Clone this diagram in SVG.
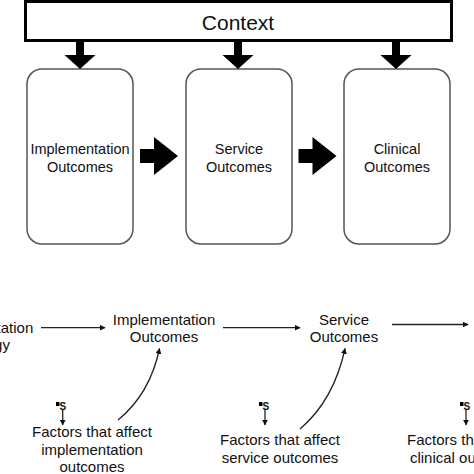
<svg xmlns="http://www.w3.org/2000/svg" width="474" height="474" viewBox="0 0 474 474">
<defs>
<style>
text{font-family:"Liberation Sans",Arial,sans-serif;fill:#111;text-anchor:middle}
.t1{font-size:14.5px}
.t2{font-size:15px}
.box{fill:#fff;stroke:#555;stroke-width:1.5}
.big{fill:#000}
.ln{fill:none;stroke:#222;stroke-width:1.3}
.s{font-size:10px;font-weight:bold;text-anchor:start}
</style>
<marker id="ah" viewBox="0 0 10 10" refX="9" refY="5" markerWidth="6" markerHeight="6" markerUnits="userSpaceOnUse" orient="auto">
<path d="M0,0 L10,5 L0,10 z" fill="#111"/>
</marker>
</defs>
<rect width="474" height="474" fill="#fff"/>
<g id="context">
<rect x="25.5" y="1.5" width="426" height="39" fill="#fff" stroke="#000" stroke-width="3"/>
<text x="238" y="30" style="font-size:21px">Context</text>
</g>
<g id="box-implementation">
<rect class="box" x="27" y="69" width="106" height="175" rx="15"/>
<text class="t1" x="80" y="154">Implementation</text>
<text class="t1" x="80" y="171.5">Outcomes</text>
</g>
<g id="box-service">
<rect class="box" x="186" y="69" width="106" height="175" rx="15"/>
<text class="t1" x="239" y="154">Service</text>
<text class="t1" x="239" y="171.5">Outcomes</text>
</g>
<g id="box-clinical">
<rect class="box" x="344" y="69" width="106" height="175" rx="15"/>
<text class="t1" x="397" y="154">Clinical</text>
<text class="t1" x="397" y="171.5">Outcomes</text>
</g>
<g id="n-strategy">
<text class="t2" x="-18" y="333">Implementation</text>
<text class="t2" x="-18" y="350">Strategy</text>
</g>
<g id="n-impl">
<text class="t2" x="164" y="324.5">Implementation</text>
<text class="t2" x="164" y="342">Outcomes</text>
</g>
<g id="n-service">
<text class="t2" x="344" y="324.5">Service</text>
<text class="t2" x="344" y="342">Outcomes</text>
</g>
<g id="f-impl">
<rect x="56" y="402" width="3.5" height="4" fill="#000"/>
<text class="s" x="59.5" y="409.5">S</text>
<text class="t2" x="92" y="437">Factors that affect</text>
<text class="t2" x="92" y="455">implementation</text>
<text class="t2" x="92" y="472">outcomes</text>
</g>
<g id="f-service">
<rect x="259" y="402" width="3.5" height="4" fill="#000"/>
<text class="s" x="262.5" y="409.5">S</text>
<text class="t2" x="280" y="445">Factors that affect</text>
<text class="t2" x="280" y="463">service outcomes</text>
</g>
<g id="f-clinical">
<rect x="460" y="402" width="3.5" height="4" fill="#000"/>
<text class="s" x="463.5" y="409.5">S</text>
<text class="t2" x="467" y="445">Factors that affect</text>
<text class="t2" x="467" y="463">clinical outcomes</text>
</g>
<g id="connectors">
<path class="big" d="M76,41 h8 v14 h11.5 L80,69 L64.5,55 H76 z"/>
<path class="big" d="M234,41 h8 v14 h11.5 L238,69 L222.5,55 H234 z"/>
<path class="big" d="M392,41 h8 v14 h11.5 L396,69 L380.5,55 H392 z"/>
<path class="big" d="M140,149 h14 v-12 L178,156 L154,175 v-12 h-14 z"/>
<path class="big" d="M298.5,149 h14 v-12 L336.5,156 L312.5,175 v-12 h-14 z"/>
<path class="ln" d="M41,327.7 H105" marker-end="url(#ah)"/>
<path class="ln" d="M223,327.7 H300" marker-end="url(#ah)"/>
<path class="ln" d="M392,324.5 H468" marker-end="url(#ah)"/>
<path class="ln" d="M118,420 Q150,394 159.5,348.5" marker-end="url(#ah)"/>
<path class="ln" d="M300,429 Q334,400 345,348.5" marker-end="url(#ah)"/>
<path class="ln" d="M62.7,410 V425" marker-end="url(#ah)"/>
<path class="ln" d="M265,410 V425" marker-end="url(#ah)"/>
<path class="ln" d="M466,410 V425" marker-end="url(#ah)"/>
</g>
</svg>
